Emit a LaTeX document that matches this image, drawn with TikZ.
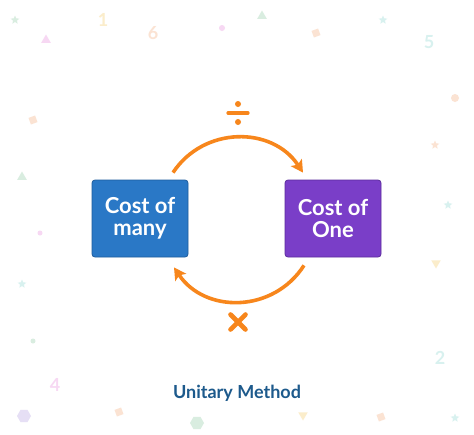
\documentclass[tikz,border=0pt]{standalone}
\usepackage{fontspec}
\setmainfont{Lato}
\usetikzlibrary{arrows.meta,calc,shapes.geometric}
\definecolor{boxblue}{HTML}{2A78C6}
\definecolor{boxblueb}{HTML}{1E5C9C}
\definecolor{boxpurple}{HTML}{7A3EC8}
\definecolor{boxpurpleb}{HTML}{5C2C9C}
\definecolor{arrorange}{HTML}{F7861C}
\definecolor{titleblue}{HTML}{1D5A8C}
\definecolor{dgreen}{HTML}{D9EDE0}
\definecolor{dpink}{HTML}{F7D8F3}
\definecolor{dpeach}{HTML}{FBE3D3}
\definecolor{dyellow}{HTML}{FBEDCB}
\definecolor{dteal}{HTML}{D8F1EF}
\definecolor{dpurple}{HTML}{E6DFF5}
\tikzset{
  valbox/.style={rounded corners=3pt, line width=0.8pt, minimum width=96pt, minimum height=77pt,
    text=white, font=\bfseries\fontsize{22}{22}\selectfont, align=center, inner sep=0pt},
  cycarrow/.style={draw=arrorange, line width=3.6pt, -{Stealth[length=12pt,width=13pt,inset=2.5pt]}},
  decotext/.style={font=\bfseries\fontsize{18}{18}\selectfont, inner sep=0pt},
  decostar/.style={star, star points=5, star point ratio=2.2, minimum size=9pt, inner sep=0pt, draw=none},
  decotri/.style={regular polygon, regular polygon sides=3, minimum size=11pt, inner sep=0pt, draw=none},
  decohex/.style={regular polygon, regular polygon sides=6, minimum size=14pt, inner sep=0pt, draw=none},
  decosq/.style={rectangle, minimum size=7pt, inner sep=0pt, rotate=20, draw=none},
  decodot/.style={circle, minimum size=6pt, inner sep=0pt, draw=none}
}
\begin{document}
\begin{tikzpicture}[x=1pt,y=-1pt]
\useasboundingbox (0,0) rectangle (474,434);
\fill[white] (0,0) rectangle (474,434);
% background decorations
\node[decostar, fill=dgreen] (s1) at (15,20) {};
\node[decotri, fill=dpink] (t1) at (46,40) {};
\node[decotext, text=dyellow] (n1) at (103,20) {1};
\node[decotext, text=dpeach] (n6) at (153,33) {6};
\node[decodot, fill=dpink] (d1) at (222,28) {};
\node[decotri, fill=dgreen] (t2) at (262,16) {};
\node[decosq, fill=dpeach] (q1) at (316,33) {};
\node[decostar, fill=dteal] (s2) at (383,20) {};
\node[decotext, text=dteal] (n5) at (429,42) {5};
\node[decodot, fill=dpeach, minimum size=8pt] (d2) at (455,98) {};
\node[decosq, fill=dpeach] (q2) at (33,120) {};
\node[decotri, fill=dgreen] (t3) at (22,177) {};
\node[decodot, fill=dpink, minimum size=5pt] (d3) at (40,233) {};
\node[decostar, fill=dteal] (s3) at (22,284) {};
\node[decostar, fill=dpeach] (s4) at (435,145) {};
\node[decostar, fill=dteal] (s5) at (448,205) {};
\node[decotri, fill=dyellow, shape border rotate=180] (t4) at (436,263) {};
\node[decodot, fill=dgreen, minimum size=5pt] (d4) at (33,341) {};
\node[decotext, text=dteal] (n2) at (440,358) {2};
\node[decotext, text=dpink] (n4) at (55,385) {4};
\node[decohex, fill=dpurple] (h1) at (24,416) {};
\node[decosq, fill=dpeach] (q3) at (119,412) {};
\node[decohex, fill=dgreen] (h2) at (197,423) {};
\node[decotri, fill=dyellow, shape border rotate=180] (t5) at (303,415) {};
\node[decosq, fill=dpeach] (q4) at (381,417) {};
\node[decostar, fill=dteal] (s6) at (455,418) {};
% main boxes
\node[valbox, fill=boxblue, draw=boxblueb] (many) at (140,218.5) {Cost of\\many};
\node[valbox, fill=boxpurple, draw=boxpurpleb] (one) at (333,218.5) {Cost of\\One};
% arrows
\coordinate (a1s) at ($(many.north)+(33,-7)$);
\coordinate (a1e) at ($(one.north)+(-30,-7)$);
\draw[cycarrow] (a1s) .. controls ($(a1s)+(30.8,-46.6)$) and ($(a1e)+(-30.8,-46.6)$) .. (a1e);
\coordinate (a2s) at ($(one.south)+(-29,8)$);
\coordinate (a2e) at ($(many.south)+(34,10)$);
\draw[cycarrow] (a2s) .. controls ($(a2s)+(-30.9,48)$) and ($(a2e)+(30.9,46)$) .. (a2e);
% divide symbol
\coordinate (dv) at (238,113);
\fill[arrorange] (dv) ++(0,-9) circle (3pt);
\fill[arrorange] (dv) ++(0,9) circle (3pt);
\draw[arrorange, line width=3.2pt, line cap=round] ($(dv)+(-10,0)$) -- ($(dv)+(10,0)$);
% times symbol
\coordinate (tm) at (238,322);
\draw[arrorange, line width=4.6pt, line cap=round] ($(tm)+(-7.5,-7.5)$) -- ($(tm)+(7.5,7.5)$);
\draw[arrorange, line width=4.6pt, line cap=round] ($(tm)+(-7.5,7.5)$) -- ($(tm)+(7.5,-7.5)$);
% title
\node[text=titleblue, font=\bfseries\fontsize{18}{20}\selectfont, inner sep=0pt] (title) at (237,393) {Unitary Method};
\end{tikzpicture}
\end{document}
